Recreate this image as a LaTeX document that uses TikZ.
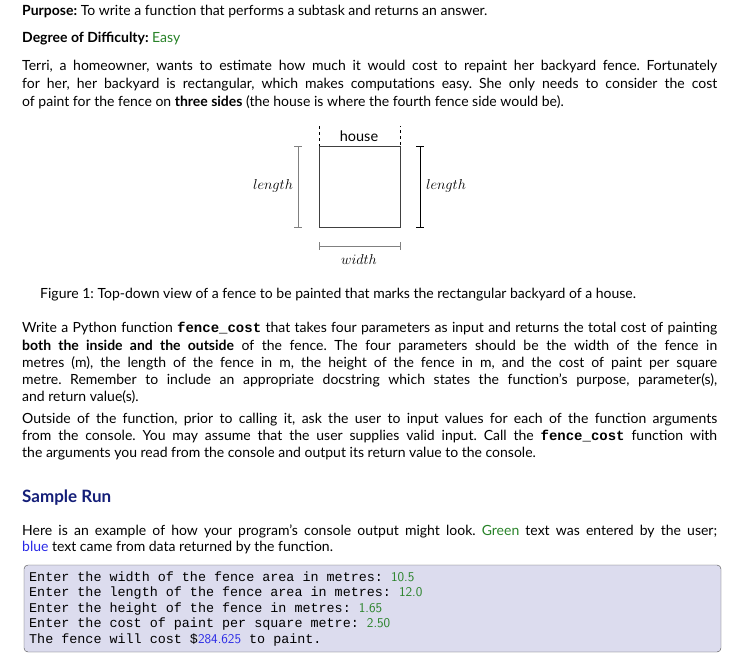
\documentclass[tikz,border=0pt]{standalone}
\usepackage{fontspec}
\setmainfont{Lato}
\setmonofont{Liberation Mono}
\definecolor{navy}{RGB}{20,30,120}
\definecolor{ingreen}{RGB}{40,130,40}
\definecolor{outblue}{RGB}{40,40,230}
\definecolor{codebg}{RGB}{220,220,238}
\frenchspacing
\begin{document}
\begin{tikzpicture}[x=1pt,y=-1pt,
  txt/.style={anchor=west,inner sep=0pt,font=\fontsize{14}{16}\selectfont},
  code/.style={anchor=west,inner sep=0pt,font=\ttfamily\fontsize{13.4}{14}\selectfont},
  lbl/.style={inner sep=0pt,font=\fontsize{14.5}{16}\selectfont}]
\useasboundingbox (0,0) rectangle (744,665);
\newcommand{\jl}[1]{\makebox[695pt][s]{#1}}
\node[txt] (p1) at (22,12) {\textbf{Purpose:} To write a function that performs a subtask and returns an answer.};
\node[txt] (p2) at (22,39) {\textbf{Degree of Difficulty:} \textcolor{ingreen}{Easy}};
\node[txt] (a1) at (22,67) {\jl{Terri, a homeowner, wants to estimate how much it would cost to repaint her backyard fence. Fortunately}};
\node[txt] (a2) at (22,85) {\jl{for her, her backyard is rectangular, which makes computations easy. She only needs to consider the cost}};
\node[txt] (a3) at (22,102) {of paint for the fence on \textbf{three sides} (the house is where the fourth fence side would be).};
% figure
\draw[dashed,thin] (319,126) -- (319,146) -- (400,146) -- (400,126);
\draw[thin,black!75] (319,146) rectangle (400,227);
\node[lbl] (house) at (359,136) {house};
\draw[gray,thin] (294,146) -- (302,146) (298,146) -- (298,227) (294,227) -- (302,227);
\draw[black,thin] (416,146) -- (424,146) (420,146) -- (420,227) (416,227) -- (424,227);
\draw[gray,thin] (319,242) -- (319,250) (319,246) -- (400,246) (400,242) -- (400,250);
\node[lbl] (ll) at (273,186) {$length$};
\node[lbl] (lr) at (446,186) {$length$};
\node[lbl] (w) at (359,259) {$width$};
\node[txt] (cap) at (40,295) {Figure 1: Top-down view of a fence to be painted that marks the rectangular backyard of a house.};
\node[txt] (b1) at (22,329) {\jl{Write a Python function \texttt{\textbf{fence\_cost}} that takes four parameters as input and returns the total cost of painting}};
\node[txt] (b2) at (22,346) {\jl{\textbf{both the inside and the outside} of the fence. The four parameters should be the width of the fence in}};
\node[txt] (b3) at (22,363) {\jl{metres (m), the length of the fence in m, the height of the fence in m, and the cost of paint per square}};
\node[txt] (b4) at (22,380) {\jl{metre. Remember to include an appropriate docstring which states the function's purpose, parameter(s),}};
\node[txt] (b5) at (22,397) {and return value(s).};
\node[txt] (c1) at (22,420) {\jl{Outside of the function, prior to calling it, ask the user to input values for each of the function arguments}};
\node[txt] (c2) at (22,437) {\jl{from the console. You may assume that the user supplies valid input. Call the \texttt{\textbf{fence\_cost}} function with}};
\node[txt] (c3) at (22,454) {the arguments you read from the console and output its return value to the console.};
\node[anchor=west,inner sep=0pt,font=\bfseries\fontsize{17}{19}\selectfont,text=navy] (sr) at (22,498) {Sample Run};
\node[txt] (d1) at (22,531) {\jl{Here is an example of how your program's console output might look. \textcolor{ingreen}{Green} text was entered by the user;}};
\node[txt] (d2) at (22,548) {\textcolor{outblue}{blue} text came from data returned by the function.};
\draw[fill=codebg,draw=black!70,rounded corners=4pt] (24,565) rectangle (721,652);
\node[code] (e1) at (29,577) {Enter the width of the fence area in metres: \textcolor{ingreen}{\sffamily 10.5}};
\node[code] (e2) at (29,593) {Enter the length of the fence area in metres: \textcolor{ingreen}{\sffamily 12.0}};
\node[code] (e3) at (29,609) {Enter the height of the fence in metres: \textcolor{ingreen}{\sffamily 1.65}};
\node[code] (e4) at (29,624) {Enter the cost of paint per square metre: \textcolor{ingreen}{\sffamily 2.50}};
\node[code] (e5) at (29,640) {The fence will cost \$\textcolor{outblue}{\sffamily 284.625} to paint.};
\end{tikzpicture}
\end{document}
